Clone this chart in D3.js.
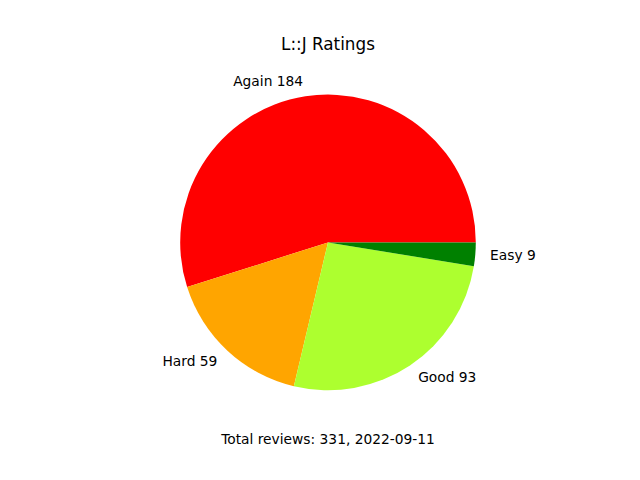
<!DOCTYPE html>
<html>
<head>
<meta charset="utf-8">
<script src="https://cdn.jsdelivr.net/npm/d3@7"></script>
<style>
  body { margin: 0; background: #fff; }
  text { font-family: "DejaVu Sans", sans-serif; fill: #000; }
</style>
</head>
<body>
<script>
// ratings shown on the labels
const ratings = ["Again", "Hard", "Good", "Easy"];
const counts = [184, 59, 93, 9];
// slice sizes as they appear in the picture
const sliceSizes = [197.5, 59, 94, 9.3];
const colors = ["red", "orange", "greenyellow", "green"];
const title = "L::J Ratings";
const footer = "Total reviews: 331, 2022-09-11";

const width = 640;
const height = 480;
const cx = 328, cy = 242.4, radius = 147.8;

const svg = d3.select("body").append("svg")
    .attr("width", width)
    .attr("height", height);

const data = ratings.map((r, i) => ({ rating: r, count: counts[i], size: sliceSizes[i], color: colors[i] }));

// matplotlib style: start at 3 o'clock, go counterclockwise
const pie = d3.pie()
    .sort(null)
    .value(d => d.size)
    .startAngle(Math.PI / 2)
    .endAngle(Math.PI / 2 - 2 * Math.PI);

const arc = d3.arc().innerRadius(0).outerRadius(radius);

const g = svg.append("g").attr("transform", `translate(${cx},${cy})`);

const arcs = pie(data);

g.selectAll("path")
    .data(arcs)
    .enter().append("path")
    .attr("d", arc)
    .attr("fill", d => d.data.color);

// labels at 1.1 * radius
g.selectAll("text.label")
    .data(arcs)
    .enter().append("text")
    .attr("class", "label")
    .attr("font-size", "13.8px")
    .attr("dominant-baseline", "central")
    .attr("dy", -1)
    .each(function(d) {
        const a = (d.startAngle + d.endAngle) / 2;
        const x = Math.sin(a) * radius * 1.1;
        const y = -Math.cos(a) * radius * 1.1;
        d3.select(this)
            .attr("x", x)
            .attr("y", y)
            .attr("text-anchor", x > 0 ? "start" : "end");
    })
    .text(d => `${d.data.rating} ${d.data.count}`);

svg.append("text")
    .attr("x", cx)
    .attr("y", 49.6)
    .attr("text-anchor", "middle")
    .attr("font-size", "16.8px")
    .text(title);

svg.append("text")
    .attr("x", cx)
    .attr("y", 444)
    .attr("text-anchor", "middle")
    .attr("font-size", "13.8px")
    .text(footer);
</script>
</body>
</html>
